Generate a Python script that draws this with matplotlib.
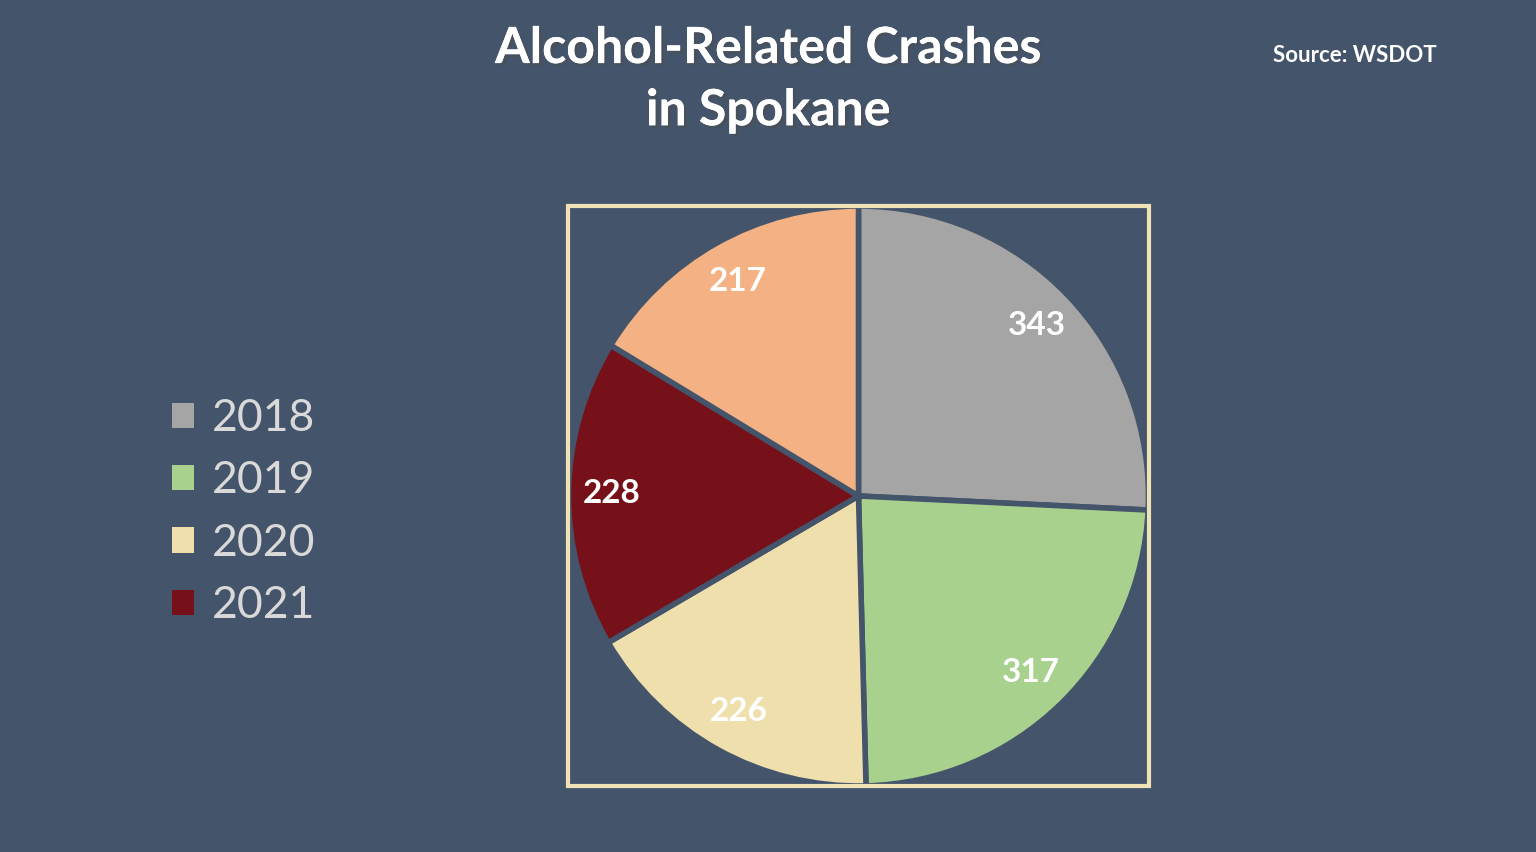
import matplotlib.pyplot as plt
import matplotlib.patheffects as pe
from matplotlib.patches import Rectangle

# Data
years = ["2018", "2019", "2020", "2021", "2022"]
crashes = [343, 317, 226, 228, 217]
colors = ["#A5A5A5", "#A9D18E", "#EEDFAD", "#761119", "#F4B183"]
legend_years = years[:4]  # the reference legend only lists four years

BG = "#44546A"
FRAME = "#EFE2B4"

plt.rcParams['font.family'] = ['Lato', 'DejaVu Sans']

fig = plt.figure(figsize=(15.36, 8.52), dpi=100, facecolor=BG)

# Pie axes, placed in pixels of the 1536x852 canvas
W, H = 1536, 852
left, top, right, bottom = 568, 206, 1149, 786
ax = fig.add_axes([left / W, 1 - bottom / H, (right - left) / W, (bottom - top) / H])
ax.set_facecolor(BG)

wedges, texts = ax.pie(
    crashes, colors=colors, startangle=90, counterclock=False,
    labels=[str(v) for v in crashes], labeldistance=0.85,
    wedgeprops=dict(edgecolor=BG, linewidth=4),
    textprops=dict(color="white", fontsize=24, fontweight="bold",
                   ha="center", va="center"),
)
for t in texts:
    t.set_horizontalalignment("center")
ax.set_xlim(-1.0, 1.0)
ax.set_ylim(-1.0, 1.0)
ax.set_aspect("equal")
for s in ax.spines.values():
    s.set_visible(False)

# Cream frame around the plot area
fig.patches.append(Rectangle((left / W, 1 - bottom / H), (right - left) / W,
                             (bottom - top) / H, transform=fig.transFigure,
                             fill=False, edgecolor=FRAME, linewidth=3))

# Legend (four entries only)
leg = fig.legend(wedges[:4], legend_years, loc="center left",
                 bbox_to_anchor=(172 / W, 1 - 512 / H), frameon=False,
                 borderpad=0, borderaxespad=0,
                 fontsize=32, labelcolor="#D9D9D9", handlelength=0.5,
                 handleheight=0.5, handletextpad=0.4, labelspacing=0.48)
for h in leg.legend_handles:
    h.set_edgecolor("none")

shadow = [pe.withSimplePatchShadow(offset=(2, -2), alpha=0.45), pe.Normal()]
fig.text(0.5, 0.943, "Alcohol-Related Crashes", color="white", fontsize=36,
         fontweight="bold", ha="center", va="center", path_effects=shadow)
fig.text(0.5, 0.870, "in Spokane", color="white", fontsize=36,
         fontweight="bold", ha="center", va="center", path_effects=shadow)
fig.text(0.882, 0.935, "Source: WSDOT", color="white", fontsize=16,
         fontweight="bold", ha="center", va="center")

fig.savefig("out.png", dpi=100, facecolor=BG)
